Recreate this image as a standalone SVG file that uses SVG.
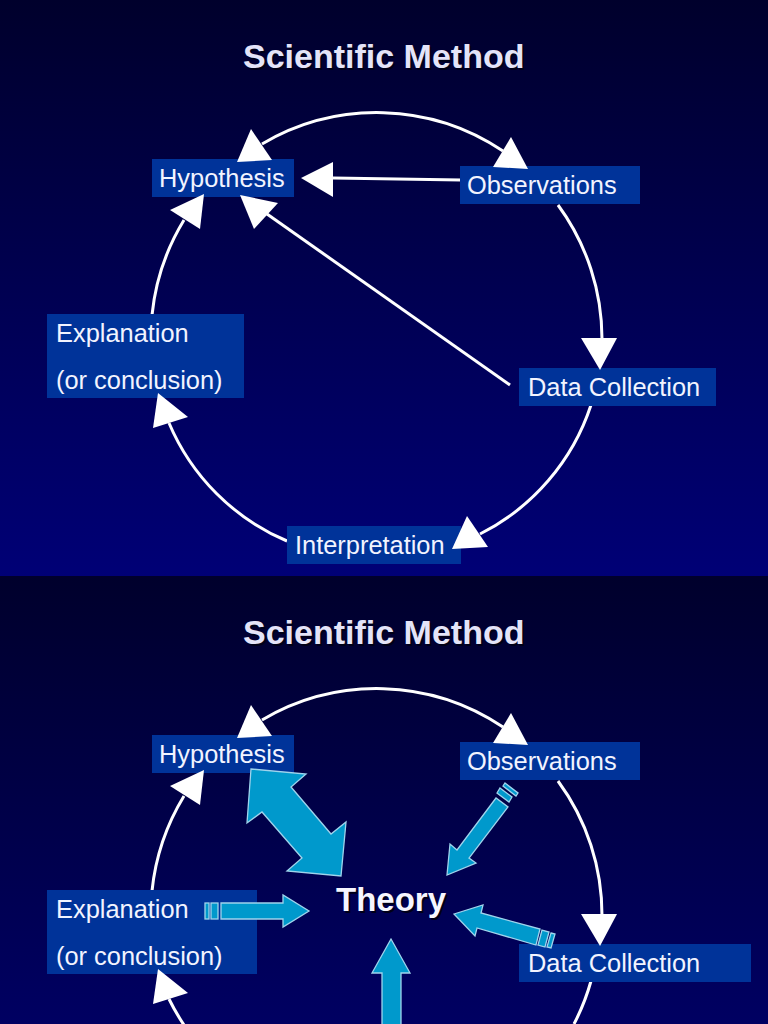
<svg xmlns="http://www.w3.org/2000/svg" width="768" height="1024" viewBox="0 0 768 1024">
<style>
.box{fill:#003399}
.lb{font-family:"Liberation Sans",Arial,sans-serif;font-size:25.4px;fill:#f2f4ff}
.tt{font-family:"Liberation Sans",Arial,sans-serif;font-size:34px;font-weight:bold;fill:#e4e4f8}
.ts{font-family:"Liberation Sans",Arial,sans-serif;font-size:34px;font-weight:bold;fill:#000018}
.th{font-family:"Liberation Sans",Arial,sans-serif;font-size:33px;font-weight:bold;fill:#f6f6ff}
.ln{fill:none;stroke:#fff;stroke-width:3}
.ah{fill:#fff}
.ba{fill:#0099cc;stroke:#9fd4ec;stroke-width:1.3;stroke-linejoin:miter}
</style>
<defs>
<linearGradient id="g1" gradientUnits="userSpaceOnUse" x1="0" y1="0" x2="0" y2="576"><stop offset="0" stop-color="#00002c"/><stop offset="1" stop-color="#000076"/></linearGradient>
<linearGradient id="g2" gradientUnits="userSpaceOnUse" x1="0" y1="576" x2="0" y2="1024"><stop offset="0" stop-color="#00002c"/><stop offset="1" stop-color="#000062"/></linearGradient>
</defs>
<rect width="768" height="576" fill="url(#g1)"/>
<rect y="576" width="768" height="448" fill="url(#g2)"/>

<g id="title-1"><text class="ts" x="245" y="70">Scientific Method</text><text class="tt" x="243" y="68">Scientific Method</text></g>
<g id="connectors-1">
<path class="ln" d="M262 144A226 226 0 0 1 503 151"/>
<path class="ln" d="M558 205A226 226 0 0 1 602 340"/>
<path class="ln" d="M591 405A222 222 0 0 1 480 534"/>
<path class="ln" d="M287 541A222 222 0 0 1 169 423"/>
<path class="ln" d="M152 315A226 226 0 0 1 184 220"/>
<path class="ln" d="M333 178L461 180"/>
<path class="ln" d="M267 214L510 385"/>
</g>
<g id="hypothesis-1"><rect class="box" x="152" y="159" width="142" height="38"/><text class="lb" x="159" y="187">Hypothesis</text></g>
<g id="observations-1"><rect class="box" x="460" y="166" width="180" height="38"/><text class="lb" x="467" y="194">Observations</text></g>
<g id="data-1"><rect class="box" x="519" y="368" width="197" height="38"/><text class="lb" x="528" y="396">Data Collection</text></g>
<g id="explanation-1"><rect class="box" x="47" y="314" width="197" height="84"/><text class="lb" x="56" y="342">Explanation</text><text class="lb" x="56" y="389">(or conclusion)</text></g>
<g id="interpretation-1"><rect class="box" x="287" y="526" width="174" height="38"/><text class="lb" x="295" y="554">Interpretation</text></g>
<g id="arrowheads-1">
<polygon class="ah" points="251,129 237,162 272,160"/>
<polygon class="ah" points="511,137 493,167 528,169"/>
<polygon class="ah" points="301,178 333,162 333,197"/>
<polygon class="ah" points="204,194 170,210 200,229"/>
<polygon class="ah" points="240,195 278,203 254,229"/>
<polygon class="ah" points="600,370 581,338 617,338"/>
<polygon class="ah" points="452,549 467,516 488,547"/>
<polygon class="ah" points="158,393 153,428 188,417"/>
</g>

<g id="title-2"><text class="ts" x="245" y="646">Scientific Method</text><text class="tt" x="243" y="644">Scientific Method</text></g>
<g id="connectors-2">
<path class="ln" d="M262 720A226 226 0 0 1 503 727"/>
<path class="ln" d="M558 781A226 226 0 0 1 602 916"/>
<path class="ln" d="M591 981A222 222 0 0 1 574 1024"/>
<path class="ln" d="M184 1025A222 222 0 0 1 169 999"/>
<path class="ln" d="M152 891A226 226 0 0 1 184 796"/>
</g>
<g id="hypothesis-2"><rect class="box" x="152" y="735" width="142" height="38"/><text class="lb" x="159" y="763">Hypothesis</text></g>
<g id="observations-2"><rect class="box" x="460" y="742" width="180" height="38"/><text class="lb" x="467" y="770">Observations</text></g>
<g id="data-2"><rect class="box" x="519" y="944" width="232" height="38"/><text class="lb" x="528" y="972">Data Collection</text></g>
<g id="explanation-2"><rect class="box" x="47" y="890" width="210" height="84"/><text class="lb" x="56" y="918">Explanation</text><text class="lb" x="56" y="965">(or conclusion)</text></g>
<g id="arrowheads-2">
<polygon class="ah" points="251,705 237,738 272,736"/>
<polygon class="ah" points="511,713 493,743 528,745"/>
<polygon class="ah" points="204,770 170,786 200,805"/>
<polygon class="ah" points="600,946 581,914 617,914"/>
<polygon class="ah" points="158,969 153,1004 188,993"/>
</g>
<g id="theory"><text class="ts" style="font-size:33px" x="338" y="913">Theory</text><text class="th" x="336" y="911">Theory</text></g>
<g id="blue-arrows">
<polygon class="ba" points="251,769 306,774 291,787 331,834 346,822 341,876 287,871 302,858 262,812 247,823"/>
<polygon class="ba" points="221,903 283,903 283,895 309,911 283,927 283,919 221,919"/>
<rect class="ba" x="205" y="903" width="4" height="16"/>
<rect class="ba" x="211" y="903" width="7" height="16"/>
<polygon class="ba" points="447,875 450,844 457,850 496,798 508,807 469,858 476,863"/>
<polygon class="ba" points="500,788 512,797 509,802 497,793"/>
<polygon class="ba" points="505,783 518,793 516,796 503,786"/>
<polygon class="ba" points="454,914 483,905 481,913 540,929 536,945 477,928 475,936"/>
<polygon class="ba" points="542,930 549,932 545,947 538,945"/>
<polygon class="ba" points="551,933 555,934 551,948 547,947"/>
<polygon class="ba" points="391,939 372,973 382,973 382,1026 401,1026 401,973 410,973"/>
</g>
</svg>
